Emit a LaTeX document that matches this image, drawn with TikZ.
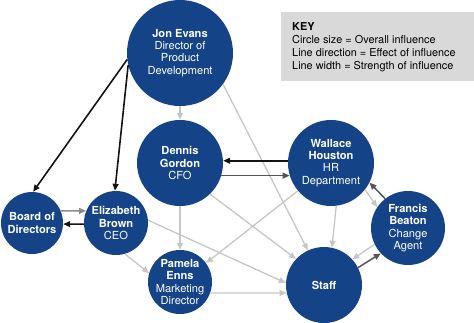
\documentclass[tikz,border=0pt]{standalone}
\usepackage{fontspec}
\setmainfont{TeX Gyre Heros}
\usetikzlibrary{arrows.meta}
\definecolor{navy}{RGB}{21,67,136}
\definecolor{lgray}{RGB}{198,198,198}
\definecolor{mgray}{RGB}{140,140,140}
\definecolor{dgray}{RGB}{85,85,85}
\definecolor{keyfill}{RGB}{217,217,217}
\begin{document}
\begin{tikzpicture}[x=1pt,y=-1pt,
  circ/.style={circle,fill=navy,inner sep=0pt,minimum size=#1},
  lbl/.style={text=white,align=center,inner sep=0pt,font=\fontsize{11.1}{12.3}\selectfont},
  tip/.style={-{Triangle[length=7pt,width=5.8pt]}},
  lconn/.style={tip,draw=lgray,line width=1.3pt},
  mconn/.style={tip,draw=mgray,line width=1.5pt},
  dconn/.style={tip,draw=dgray,line width=1.5pt},
  bconn/.style={tip,draw=black!92,line width=1.6pt},
  keybox/.style={fill=keyfill,inner sep=0pt,minimum width=193pt,minimum height=69pt,anchor=north west},
  keytext/.style={anchor=north west,align=left,inner sep=0pt,font=\fontsize{10.9}{13}\selectfont}
]
\useasboundingbox (0,0) rectangle (474,322);

% key
\node[keybox] (key) at (281,12) {};
\node[keytext] (keytxt) at (292,22.5) {\textbf{KEY}\\Circle size = Overall influence\\Line direction = Effect of influence\\Line width = Strength of influence};

% circles
\node[circ=106pt] (jon) at (180,53) {};
\node[circ=86pt] (dennis) at (180,163) {};
\node[circ=86pt] (wallace) at (331,163) {};
\node[circ=74pt] (francis) at (408,228) {};
\node[circ=76pt] (staff) at (324,285) {};
\node[circ=62pt] (board) at (32,223) {};
\node[circ=64pt] (eliz) at (116,223) {};
\node[circ=64pt] (pamela) at (180,282) {};

% labels
\node[lbl] (jonT) at (jon) {\textbf{Jon Evans}\\Director of\\Product\\Development};
\node[lbl] (dennisT) at (dennis) {\textbf{Dennis}\\\textbf{Gordon}\\CFO};
\node[lbl] (wallaceT) at (wallace) {\textbf{Wallace}\\\textbf{Houston}\\HR\\Department};
\node[lbl] (francisT) at (francis) {\textbf{Francis}\\\textbf{Beaton}\\Change\\Agent};
\node[lbl] (staffT) at (staff) {\textbf{Staff}};
\node[lbl] (boardT) at (board) {\textbf{Board of}\\\textbf{Directors}};
\node[lbl] (elizT) at (eliz) {\textbf{Elizabeth}\\\textbf{Brown}\\CEO};
\node[lbl] (pamelaT) at (pamela) {\textbf{Pamela}\\\textbf{Enns}\\Marketing\\Director};

% light connectors
\draw[lconn] (jon.-90) -- (dennis.90);
\draw[lconn] (jon.-36) -- (staff.115);
\draw[lconn] (dennis.-90) -- (pamela.90);
\draw[lconn] (dennis.-46) -- (staff.137);
\draw[lconn] (wallace.-83) -- (staff.78);
\draw[lconn] (wallace.220) -- (pamela.36);
\draw[lconn] (eliz.-74) -- (pamela.164);
\draw[lconn] (eliz.5) -- (staff.177);
\draw[lconn] (pamela.-20) -- (staff.192);
\draw[lconn] (wallace.-38) -- (francis.146);
\draw[lconn] (francis.206) -- (staff.42);

% medium / dark connectors
\draw[mconn] (board.23) -- (eliz.158);
\draw[dconn] (dennis.-17.6) -- (wallace.197.6);
\draw[dconn] (francis.128) -- (wallace.-27);
\draw[dconn] (staff.27) -- (francis.223);

% black connectors
\draw[bconn] (jon.187.5) -- (board.88);
\draw[bconn] (jon.193) -- (eliz.92);
\draw[bconn] (wallace.177) -- (dennis.3);
\draw[bconn] (eliz.182) -- (board.-2);
\end{tikzpicture}
\end{document}
